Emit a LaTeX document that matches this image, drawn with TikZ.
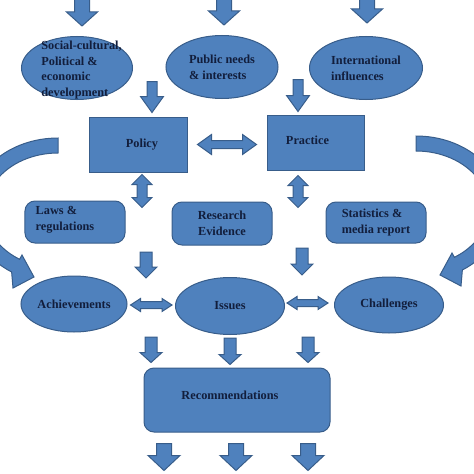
\documentclass[tikz,border=0pt]{standalone}
\usepackage{fontspec}
\setmainfont{Liberation Serif}
\usetikzlibrary{shapes.geometric,calc}

\definecolor{boxblue}{RGB}{79,129,189}
\definecolor{edgeblue}{RGB}{56,93,138}
\definecolor{inkblue}{RGB}{18,30,60}

\tikzset{
  blk/.style={fill=boxblue, draw=edgeblue, line width=0.2mm},
  lbl/.style={font=\bfseries\fontsize{7}{8.9}\selectfont, text=inkblue, align=left},
  oval/.style={blk, lbl, ellipse, inner sep=0pt},
  box/.style={blk, lbl, rectangle, inner sep=0pt},
  rbox/.style={box, rounded corners=2mm}
}

% block arrows: half shaft \arrsw, half head \arrhw, head length \arrhl
\def\arrsw{1.5mm}
\def\arrhw{3.1mm}
\def\arrhl{2.8mm}
\newcommand{\blockarrow}[2]{%
  \coordinate (ba-s) at #1;
  \coordinate (ba-e) at #2;
  \coordinate (ba-h) at ($(ba-e)!\arrhl!(ba-s)$);
  \draw[blk] ($(ba-s)!\arrsw!90:(ba-e)$) -- ($(ba-h)!\arrsw!90:(ba-e)$)
    -- ($(ba-h)!\arrhw!90:(ba-e)$) -- (ba-e) -- ($(ba-h)!\arrhw!-90:(ba-e)$)
    -- ($(ba-h)!\arrsw!-90:(ba-e)$) -- ($(ba-s)!\arrsw!-90:(ba-e)$) -- cycle;}
\newcommand{\twoarrow}[2]{%
  \coordinate (da-s) at #1;
  \coordinate (da-e) at #2;
  \coordinate (da-a) at ($(da-s)!\arrhl!(da-e)$);
  \coordinate (da-b) at ($(da-e)!\arrhl!(da-s)$);
  \draw[blk] (da-s) -- ($(da-a)!\arrhw!90:(da-e)$) -- ($(da-a)!\arrsw!90:(da-e)$)
    -- ($(da-b)!\arrsw!90:(da-e)$) -- ($(da-b)!\arrhw!90:(da-e)$) -- (da-e)
    -- ($(da-b)!\arrhw!-90:(da-e)$) -- ($(da-b)!\arrsw!-90:(da-e)$)
    -- ($(da-a)!\arrsw!-90:(da-e)$) -- ($(da-a)!\arrhw!-90:(da-e)$) -- cycle;}

\begin{document}
\begin{tikzpicture}[x=0.2mm, y=-0.2mm]
  \useasboundingbox (0,0) rectangle (474,474);
  \clip (0,0) rectangle (474,474);

  % top row
  \node[oval, minimum width=22.2mm, minimum height=12.6mm,
        label={[lbl, xshift=0.9mm, yshift=-0.4mm]center:{Social-cultural,\\Political \&\\economic\\development}}] (social) at (77,68) {};
  \node[oval, minimum width=22.4mm, minimum height=12.6mm] (public) at (222,67) {Public needs\\\& interests};
  \node[oval, minimum width=22.6mm, minimum height=12.6mm] (intl) at (366,68) {International\\influences};

  \node[box, minimum width=19.6mm, minimum height=11mm,
        label={[lbl, xshift=0.8mm]center:Policy}] (policy) at (138,144.5) {};
  \node[box, minimum width=19.4mm, minimum height=11mm,
        label={[lbl, xshift=-1.6mm, yshift=0.4mm]center:Practice}] (practice) at (315.5,142.5) {};

  % middle row
  \node[rbox, minimum width=20mm, minimum height=8.4mm,
        label={[lbl, xshift=-2mm, yshift=0.5mm]center:{Laws \&\\regulations}}] (laws) at (75,222) {};
  \node[rbox, minimum width=20mm, minimum height=8.6mm, align=center] (research) at (222,223.5) {Research\\Evidence};
  \node[rbox, minimum width=20mm, minimum height=8.2mm] (stats) at (376,222.5) {Statistics \&\\media report};

  \node[oval, minimum width=21.2mm, minimum height=11.2mm] (achieve) at (74,304) {Achievements};
  \node[oval, minimum width=21.8mm, minimum height=11.4mm] (issues) at (230,306) {Issues};
  \node[oval, minimum width=21.8mm, minimum height=11.2mm] (challenge) at (389,305) {Challenges};

  \node[rbox, minimum width=37.2mm, minimum height=12.8mm,
        label={[lbl, xshift=-1.4mm, yshift=1mm]center:Recommendations}] (recom) at (237,400) {};

  % curved arrows at the sides
  \coordinate (lc) at (58,210.5);
  \coordinate (rc) at (416,208.5);
  \draw[blk] ($(lc)+(0,-72.5)$) arc[start angle=270, end angle=122, x radius=87.5, y radius=72.5]
    -- (13,288) -- (34,277) -- (22,255) -- ($(lc)+(122:72.5 and 57.5)$)
    arc[start angle=122, end angle=270, x radius=72.5, y radius=57.5] -- cycle;
  \draw[blk] ($(rc)+(0,-72.5)$) arc[start angle=270, end angle=418, x radius=87.5, y radius=72.5]
    -- (461,286) -- (440,275) -- (452,253) -- ($(rc)+(58:72.5 and 57.5)$)
    arc[start angle=418, end angle=270, x radius=72.5, y radius=57.5] -- cycle;

  % inputs
  \blockarrow{(82,-2)}{($(social.north)+(5,-10)$)}
  \blockarrow{(224,-2)}{($(public.north)+(2,-10)$)}
  \blockarrow{(367,-2)}{($(intl.north)+(1,-13)$)}

  \def\arrsw{1mm}\def\arrhw{2.3mm}\def\arrhl{3.2mm}
  \blockarrow{($(policy.north)+(14,-35)$)}{($(policy.north)+(14,-4)$)}
  \blockarrow{($(practice.north)+(-17.5,-35)$)}{($(practice.north)+(-17.5,-3)$)}

  \def\arrsw{0.8mm}\def\arrhw{2mm}\def\arrhl{2.8mm}
  \twoarrow{($(policy.east)+(10,0)$)}{($(practice.west |- policy.east)+(-10,0)$)}

  \def\arrsw{1mm}\def\arrhw{2mm}\def\arrhl{2mm}
  \twoarrow{($(policy.south)+(4,2)$)}{($(policy.south)+(4,35)$)}
  \twoarrow{($(practice.south)+(-17.5,5)$)}{($(practice.south)+(-17.5,37)$)}

  \def\arrsw{1.2mm}\def\arrhw{2.2mm}\def\arrhl{2.2mm}
  \blockarrow{(146,252)}{(146,278)}
  \blockarrow{(302,248)}{(302,275)}

  \def\arrsw{0.7mm}\def\arrhw{1.3mm}\def\arrhl{2mm}
  \twoarrow{($(achieve.east)+(3,1)$)}{($(issues.west)+(-3,-1)$)}
  \twoarrow{($(issues.east)+(2,-3)$)}{($(challenge.west)+(-6,-2)$)}

  % to the recommendations and out
  \def\arrsw{1.2mm}\def\arrhw{2.2mm}\def\arrhl{2mm}
  \blockarrow{(151,337)}{($(recom.north)+(-86,-5)$)}
  \blockarrow{(230,338)}{($(recom.north)+(-7,-3)$)}
  \blockarrow{(308,337)}{($(recom.north)+(71,-5)$)}

  \def\arrsw{1.5mm}\def\arrhw{3.2mm}\def\arrhl{3mm}
  \blockarrow{($(recom.south)+(-73,11)$)}{($(recom.south)+(-73,38)$)}
  \blockarrow{($(recom.south)+(-1,11)$)}{($(recom.south)+(-1,38)$)}
  \blockarrow{($(recom.south)+(71,11)$)}{($(recom.south)+(71,38)$)}
\end{tikzpicture}
\end{document}
